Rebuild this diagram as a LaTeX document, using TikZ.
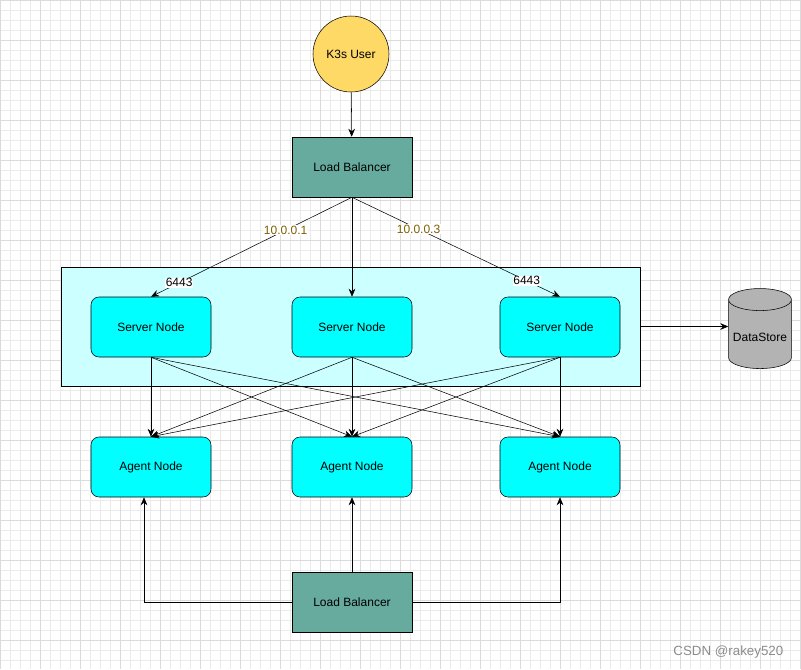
\documentclass[tikz,border=0pt]{standalone}
\usepackage{fontspec}
\setmainfont{Liberation Sans}
\usetikzlibrary{shapes.geometric, arrows.meta}
\definecolor{userfill}{HTML}{FFD966}
\definecolor{lbfill}{HTML}{67AB9F}
\definecolor{boxfill}{HTML}{CCFFFF}
\definecolor{nodefill}{HTML}{00FFFF}
\definecolor{dsfill}{HTML}{B3B3B3}
\definecolor{iplabel}{HTML}{7F5F00}
\tikzset{
  lb/.style={draw, fill=lbfill, minimum width=90pt, minimum height=45pt, font=\fontsize{9}{10}\selectfont},
  k3s/.style={draw, fill=nodefill, rounded corners=6pt, minimum width=90pt, minimum height=45pt, font=\fontsize{9}{10}\selectfont},
  arr/.style={-{Stealth[length=6pt,width=5pt]}, black},
  lbl/.style={fill=white, inner sep=0.5pt, font=\fontsize{9}{10}\selectfont}
}
\begin{document}
\begin{tikzpicture}[x=0.75pt, y=-0.75pt]
  \useasboundingbox (0,0) rectangle (801,669);
  \fill[white] (0,0) rectangle (801,669);
  % grid
  \foreach \i in {0,10,...,800} \draw[black!8, line width=0.4pt] (\i,0) -- (\i,669);
  \foreach \j in {0,10,...,660} \draw[black!8, line width=0.4pt] (0,\j) -- (801,\j);
  \foreach \i in {0,40,...,800} \draw[black!14, line width=0.5pt] (\i,0) -- (\i,669);
  \foreach \j in {0,40,...,660} \draw[black!14, line width=0.5pt] (0,\j) -- (801,\j);

  % nodes
  \node[draw, circle, fill=userfill, minimum size=57pt, font=\fontsize{9}{10}\selectfont] (user) at (351,54) {K3s User};
  \node[lb] (lbtop) at (352,167) {Load Balancer};
  \node[draw, fill=boxfill, minimum width=434pt, minimum height=89pt] (cluster) at (350.5,326.5) {};
  \node[k3s] (s1) at (151,327) {Server Node};
  \node[k3s] (s2) at (352,327) {Server Node};
  \node[k3s] (s3) at (560,327) {Server Node};
  \node[k3s] (a1) at (151,467) {Agent Node};
  \node[k3s] (a2) at (352,467) {Agent Node};
  \node[k3s] (a3) at (560,467) {Agent Node};
  \node[lb] (lbbot) at (352,602) {Load Balancer};
  \node[draw, cylinder, shape border rotate=90, aspect=0.35, fill=dsfill, minimum width=45pt, minimum height=60pt, font=\fontsize{9}{10}\selectfont] (ds) at (760,337) {DataStore};
  \coordinate (bl) at (144,602);
  \coordinate (br) at (560,602);

  % connectors
  \draw[arr] (user) -- (lbtop);
  \draw[arr] (lbtop.south) -- (s1.north)
     node[pos=0.33, text=iplabel, lbl] {10.0.0.1}
     node[pos=0.86, lbl] {6443};
  \draw[arr] (lbtop.south) -- (s2.north);
  \draw[arr] (lbtop.south) -- (s3.north)
     node[pos=0.32, text=iplabel, lbl] {10.0.0.3}
     node[pos=0.84, lbl] {6443};
  \draw[arr] (cluster.east) -- (ds.west |- cluster.east);
  \foreach \s in {s1,s2,s3}
    \foreach \a in {a1,a2,a3}
      \draw[arr] (\s.south) -- (\a.north);
  \draw[arr] (lbbot) -- (a2);
  \draw[arr] (lbbot.west) -- (bl) -- (a1.south -| bl);
  \draw[arr] (lbbot.east) -- (br) -- (a3.south);

  \node[text=black!45, font=\fontsize{10}{12}\selectfont, anchor=east] (wm) at (788,652) {CSDN @rakey520};
\end{tikzpicture}
\end{document}
